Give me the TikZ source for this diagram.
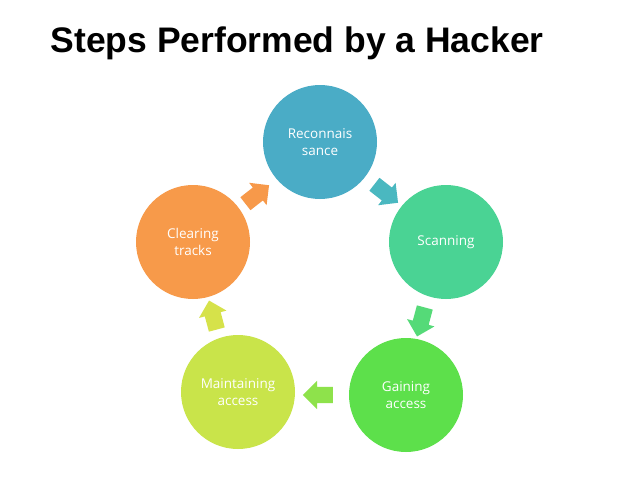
\documentclass[tikz,border=0pt]{standalone}
\usepackage{fontspec}
\setmainfont{Open Sans}
\newfontfamily\titlefont{Liberation Sans}
\usetikzlibrary{shapes.arrows}
\definecolor{cA}{HTML}{4AACC6}
\definecolor{cB}{HTML}{4AD394}
\definecolor{cC}{HTML}{5DE04B}
\definecolor{cD}{HTML}{C9E44A}
\definecolor{cE}{HTML}{F79A4A}
\definecolor{aA}{HTML}{4AB8C0}
\definecolor{aB}{HTML}{55DA78}
\definecolor{aC}{HTML}{8EE24B}
\definecolor{aD}{HTML}{D6E24A}
\definecolor{aE}{HTML}{F7994A}
\begin{document}
\begin{tikzpicture}[x=1pt,y=-1pt,
  hstep/.style={circle,minimum size=114pt,inner sep=0pt,text=white,align=center,font=\fontsize{13.5}{17}\selectfont},
  arr/.style={single arrow,minimum height=30pt,inner sep=8pt,single arrow head extend=6pt,single arrow head indent=0pt,draw=none}]
\useasboundingbox (0,0) rectangle (638,479);
\fill[white] (0,0) rectangle (638,479);
\node[anchor=west,font=\titlefont\bfseries\fontsize{35.5}{40}\selectfont] (title) at (47,43) {Steps Performed by a Hacker};
\node[hstep,fill=cA] (r) at (320,142) {Reconnais\\sance};
\node[hstep,fill=cB] (s) at (446,242) {Scanning};
\node[hstep,fill=cC] (g) at (406,395) {Gaining\\access};
\node[hstep,fill=cD] (m) at (238,392) {Maintaining\\access};
\node[hstep,fill=cE] (c) at (193,242) {Clearing\\tracks};
\node[arr,fill=aA,rotate=-38] (a1) at (383,191) {};
\node[arr,fill=aB,rotate=-105] (a2) at (422,318) {};
\node[arr,fill=aC,rotate=180] (a3) at (322,395) {};
\node[arr,fill=aD,rotate=105] (a4) at (214,319) {};
\node[arr,fill=aE,rotate=38] (a5) at (254,197) {};
\end{tikzpicture}
\end{document}
